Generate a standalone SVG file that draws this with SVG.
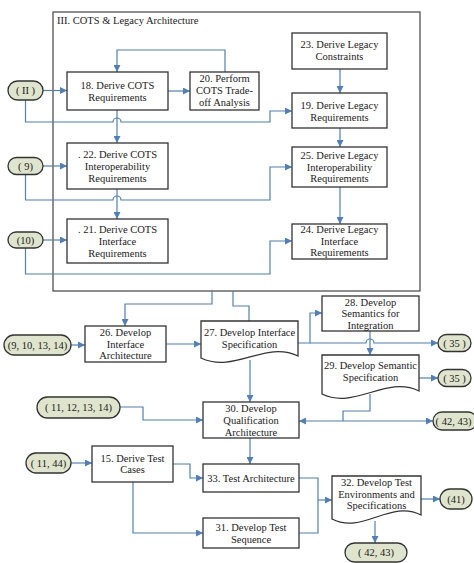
<svg xmlns="http://www.w3.org/2000/svg" width="474" height="563" viewBox="0 0 474 563">
<style>
.bx{fill:#fff;stroke:#333;stroke-width:1.3}
.ov{fill:#dfe4cc;stroke:#333;stroke-width:1.3}
.t{font-family:"Liberation Serif","Times New Roman",serif;font-size:10.5px;fill:#1a1a1a;text-anchor:middle}
.ti{font-family:"Liberation Serif","Times New Roman",serif;font-size:10.5px;fill:#1a1a1a}
.c{fill:none;stroke:#4f7fbd;stroke-width:1.2}
.a{marker-end:url(#ar)}
</style>
<defs>
<marker id="ar" markerUnits="userSpaceOnUse" markerWidth="7" markerHeight="7" refX="7" refY="3.5" orient="auto">
<path d="M0,0 L7,3.5 L0,7 z" fill="#4f7fbd"/>
</marker>
</defs>
<rect width="474" height="563" fill="#fff"/>
<g id="container">
<rect x="53" y="12" width="367" height="279" fill="none" stroke="#444" stroke-width="1.2"/>
<text class="ti" x="57" y="24">III. COTS &amp; Legacy Architecture</text>
</g>
<g id="connectors">
<path class="c a" d="M43,90.5 H67"/>
<path class="c a" d="M168,91 H190"/>
<path class="c a" d="M225,72 V50 H117 V72"/>
<path class="c a" d="M25.5,100 V122 H113 A4,4 0 0 1 121,122 H270 V111 H292"/>
<path class="c a" d="M117,110 V143"/>
<path class="c a" d="M340,69 V93"/>
<path class="c a" d="M340,128 V147"/>
<path class="c a" d="M340,187 V224"/>
<path class="c a" d="M43,166 H67"/>
<path class="c a" d="M25.5,174.5 V200 H113 A4,4 0 0 1 121,200 H270 V167 H292"/>
<path class="c a" d="M117,189 V219"/>
<path class="c a" d="M43,240 H67"/>
<path class="c a" d="M25.5,248 V274 H270 V241 H292"/>
<path class="c a" d="M212,291 V304 H125 V326"/>
<path class="c" d="M233,291 V306 H249 V322"/>
<path class="c a" d="M71,345 H85"/>
<path class="c a" d="M166,344 H201"/>
<path class="c a" d="M298,343 H310 V313 H322"/>
<path class="c a" d="M310,343 H366 A4,4 0 0 1 374,343 H438"/>
<path class="c a" d="M370,331 V355"/>
<path class="c a" d="M419,378 H438"/>
<path class="c a" d="M250,360 V402"/>
<path class="c" d="M370,394 V411 H343 V421"/>
<path class="c a" d="M343,421 H299"/>
<path class="c a" d="M343,421 H433"/>
<path class="c a" d="M120,407 H143 V420 H203"/>
<path class="c a" d="M71,463 H92"/>
<path class="c a" d="M173,464 H190 V478 H203"/>
<path class="c a" d="M133,482 V533 H203"/>
<path class="c a" d="M250,438 V464"/>
<path class="c" d="M299,478 H318 V533 H299"/>
<path class="c a" d="M318,500 H332"/>
<path class="c a" d="M421,499 H440"/>
<path class="c a" d="M375,521 V543"/>
</g>
<g id="n18"><rect class="bx" x="67" y="72" width="101" height="38"/><text class="t" x="117.5" y="88.5">18. Derive COTS</text><text class="t" x="117.5" y="101">Requirements</text></g>
<g id="n20"><rect class="bx" x="190" y="72" width="69" height="38"/><text class="t" x="224.5" y="82">20. Perform</text><text class="t" x="224.5" y="94">COTS Trade-</text><text class="t" x="224.5" y="106">off Analysis</text></g>
<g id="n23"><rect class="bx" x="292" y="33" width="95" height="36"/><text class="t" x="339.5" y="48">23. Derive Legacy</text><text class="t" x="339.5" y="60">Constraints</text></g>
<g id="n19"><rect class="bx" x="292" y="93" width="95" height="35"/><text class="t" x="339.5" y="109">19. Derive Legacy</text><text class="t" x="339.5" y="121">Requirements</text></g>
<g id="n25"><rect class="bx" x="292" y="147" width="95" height="40"/><text class="t" x="339.5" y="159">25. Derive Legacy</text><text class="t" x="339.5" y="170.5">Interoperability</text><text class="t" x="339.5" y="182">Requirements</text></g>
<g id="n24"><rect class="bx" x="292" y="224" width="95" height="35"/><text class="t" x="339.5" y="233">24. Derive Legacy</text><text class="t" x="339.5" y="244.5">Interface</text><text class="t" x="339.5" y="256">Requirements</text></g>
<g id="n22"><rect class="bx" x="67" y="143" width="101" height="46"/><text class="t" x="117.5" y="158">. 22. Derive COTS</text><text class="t" x="117.5" y="170">Interoperability</text><text class="t" x="117.5" y="181.5">Requirements</text></g>
<g id="n21"><rect class="bx" x="67" y="219" width="101" height="44"/><text class="t" x="117.5" y="233">. 21. Derive COTS</text><text class="t" x="117.5" y="245">Interface</text><text class="t" x="117.5" y="256.5">Requirements</text></g>
<g id="n26"><rect class="bx" x="85" y="326" width="81" height="36"/><text class="t" x="125.5" y="336">26. Develop</text><text class="t" x="125.5" y="347.5">Interface</text><text class="t" x="125.5" y="359">Architecture</text></g>
<g id="n27"><path class="bx" d="M201,321 H298 V356 C265,340 235,374 201,358 Z"/><text class="t" x="249.5" y="336">27. Develop Interface</text><text class="t" x="249.5" y="347.5">Specification</text></g>
<g id="n28"><rect class="bx" x="322" y="296" width="97" height="35"/><text class="t" x="370.5" y="305.5">28. Develop</text><text class="t" x="370.5" y="317">Semantics for</text><text class="t" x="370.5" y="328.5">Integration</text></g>
<g id="n29"><path class="bx" d="M322,355 H419 V391 C386,375 355,410 322,394 Z"/><text class="t" x="370.5" y="369">29. Develop Semantic</text><text class="t" x="370.5" y="380.5">Specification</text></g>
<g id="n30"><rect class="bx" x="203" y="402" width="96" height="36" stroke-width="1.6"/><text class="t" x="251" y="412">30. Develop</text><text class="t" x="251" y="424">Qualification</text><text class="t" x="251" y="435.5">Architecture</text></g>
<g id="n15"><rect class="bx" x="92" y="446" width="81" height="36"/><text class="t" x="132.5" y="461.5">15. Derive Test</text><text class="t" x="132.5" y="473">Cases</text></g>
<g id="n33"><rect class="bx" x="203" y="464" width="96" height="28"/><text class="t" x="251" y="482">33. Test Architecture</text></g>
<g id="n31"><rect class="bx" x="203" y="518" width="96" height="30"/><text class="t" x="251" y="531">31. Develop Test</text><text class="t" x="251" y="543">Sequence</text></g>
<g id="n32"><path class="bx" d="M332,476 H421 V515 C391,499 362,535 332,519 Z"/><text class="t" x="376.5" y="486">32. Develop Test</text><text class="t" x="376.5" y="497.5">Environments and</text><text class="t" x="376.5" y="509">Specifications</text></g>
<g id="oII"><rect class="ov" x="8" y="81" width="35" height="19" rx="9.5"/><text class="t" x="25.5" y="94">( II )</text></g>
<g id="o9"><rect class="ov" x="8" y="157.5" width="35" height="17" rx="8.5"/><text class="t" x="25.5" y="169.5">( 9)</text></g>
<g id="o10"><rect class="ov" x="8" y="232" width="35" height="16" rx="8"/><text class="t" x="25.5" y="243.5">(10)</text></g>
<g id="o9101314"><rect class="ov" x="4" y="335" width="67" height="20" rx="10"/><text class="t" x="37.5" y="348.5">(9, 10, 13, 14)</text></g>
<g id="o11121314"><rect class="ov" x="37" y="397" width="83" height="21" rx="10.5"/><text class="t" x="78.5" y="411">( 11, 12, 13, 14)</text></g>
<g id="o1144"><rect class="ov" x="26" y="453" width="45" height="20" rx="10"/><text class="t" x="48.5" y="466.5">( 11, 44)</text></g>
<g id="o35a"><rect class="ov" x="438" y="334.5" width="33" height="17" rx="8.5"/><text class="t" x="454.5" y="346.5">( 35 )</text></g>
<g id="o35b"><rect class="ov" x="438" y="369.5" width="33" height="17" rx="8.5"/><text class="t" x="454.5" y="381.5">( 35 )</text></g>
<g id="o4243a"><rect class="ov" x="433" y="412" width="44" height="18" rx="9"/><text class="t" x="453.5" y="424.5">( 42, 43)</text></g>
<g id="o41"><rect class="ov" x="440" y="489" width="32" height="20" rx="10"/><text class="t" x="456" y="502.5">(41)</text></g>
<g id="o4243b"><rect class="ov" x="345" y="543" width="62" height="19" rx="9.5"/><text class="t" x="376" y="556">( 42, 43)</text></g>
</svg>
